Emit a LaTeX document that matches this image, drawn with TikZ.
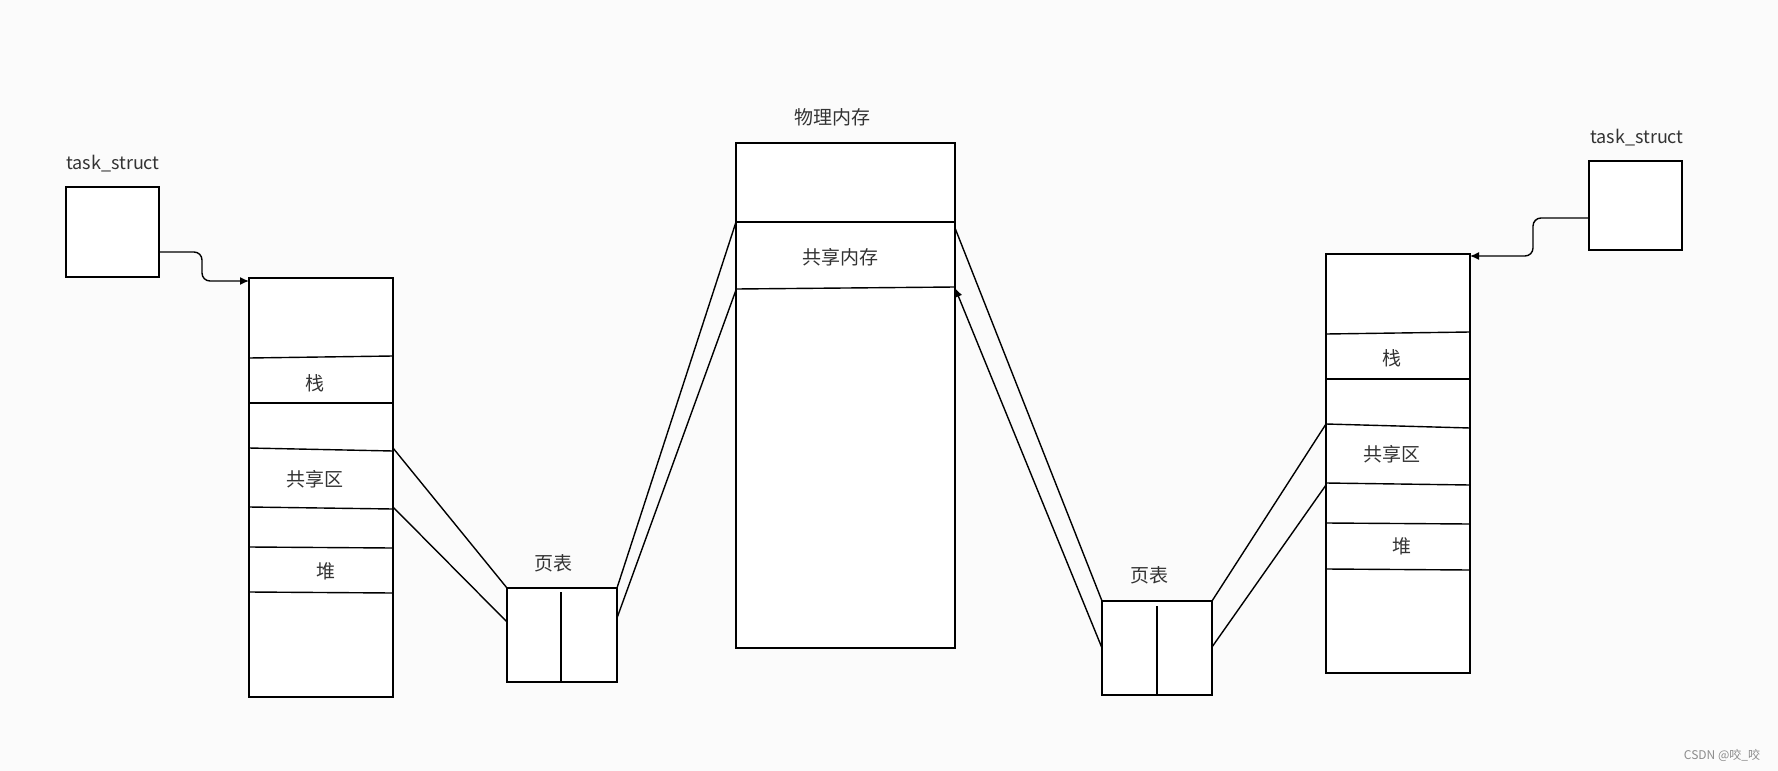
\documentclass[tikz,border=0pt]{standalone}
\usepackage{fontspec}
\setmainfont{Noto Sans CJK SC}
\usetikzlibrary{arrows.meta}
\definecolor{bg}{RGB}{251,251,251}
\definecolor{txt}{RGB}{51,51,51}
\tikzset{
  blk/.style={draw=black, fill=white, line width=2pt, inner sep=0pt, outer sep=0pt, rectangle},
  divl/.style={draw=black, line width=1.4pt},
  conn/.style={draw=black, line width=1.4pt},
  lbl/.style={text=txt, inner sep=0pt, font=\fontsize{18}{22}\selectfont},
  cjk/.style={text=txt, inner sep=0pt, font=\fontsize{19}{23}\selectfont},
  tip/.style={-{Latex[length=9pt,width=8pt]}}
}
\begin{document}
\begin{tikzpicture}[x=1pt,y=-1pt]
\path[fill=bg] (0,0) rectangle (1778,771);
\useasboundingbox (0,0) rectangle (1778,771);

% boxes
\node[blk, minimum width=93pt, minimum height=90pt] (ts1) at (112.5,232) {};
\node[blk, minimum width=144pt, minimum height=419pt] (col1) at (321,487.5) {};
\node[blk, minimum width=110pt, minimum height=94pt] (pt1) at (562,635) {};
\node[blk, minimum width=219pt, minimum height=505pt] (phys) at (845.5,395.5) {};
\node[blk, minimum width=110pt, minimum height=94pt] (pt2) at (1157,648) {};
\node[blk, minimum width=144pt, minimum height=419pt] (col2) at (1398,463.5) {};
\node[blk, minimum width=93pt, minimum height=89pt] (ts2) at (1635.5,205.5) {};

% labels
\node[lbl] (l1) at (113,164) {task\_struct};
\node[lbl] (l2) at (1637,138) {task\_struct};
\node[cjk] (l3) at (832,117) {物理内存};
\node[cjk] (l4) at (553,563) {页表};
\node[cjk] (l5) at (1149,575) {页表};

% left column dividers
\draw[divl] (249,358) -- (393,356);
\draw[divl] (249,403) -- (393,403);
\draw[divl] (249,448) -- (393,451);
\draw[divl] (249,507) -- (393,509);
\draw[divl] (249,547) -- (393,548);
\draw[divl] (249,592) -- (393,593);
\node[cjk] (s1) at (315,383) {栈};
\node[cjk] (s2) at (315,479) {共享区};
\node[cjk] (s3) at (326,571) {堆};

% right column dividers
\draw[divl] (1326,334) -- (1470,332);
\draw[divl] (1326,379) -- (1470,379);
\draw[divl] (1326,424) -- (1470,428);
\draw[divl] (1326,483) -- (1470,485);
\draw[divl] (1326,523) -- (1470,524);
\draw[divl] (1326,569) -- (1470,570);
\node[cjk] (r1) at (1392,358) {栈};
\node[cjk] (r2) at (1392,454) {共享区};
\node[cjk] (r3) at (1402,546) {堆};

% physical memory dividers
\draw[divl] (736,222) -- (955,222);
\draw[divl] (736,289) -- (955,287);
\node[cjk] (p1) at (840,257) {共享内存};

% page table inner lines
\draw[divl] (561,592) -- (561,682);
\draw[divl] (1157,606) -- (1157,695);

% connector end points
\coordinate (c1a) at (393,448);
\coordinate (c1b) at (393,507);
\coordinate (pt1w) at (507,622);
\coordinate (pt1e) at (617,618);
\coordinate (pha) at (736,222);
\coordinate (phb) at (736,290);
\coordinate (phc) at (955,228);
\coordinate (phd) at (955,288);
\coordinate (pt2e) at (1212,647);
\coordinate (c2a) at (1326,424);
\coordinate (c2b) at (1326,485);

% connectors
\draw[conn, tip, rounded corners=8pt] ([yshift=-20pt]ts1.east) -- ++(43,0) |- ([yshift=-3pt]col1.north west);
\draw[conn, tip, rounded corners=8pt] ([yshift=-12.5pt]ts2.west) -- ++(-56,0) |- ([yshift=-2pt]col2.north east);

\draw[conn] (c1a) -- (pt1.north west);
\draw[conn] (c1b) -- (pt1w);
\draw[conn] (pt1.north east) -- (pha);
\draw[conn] (pt1e) -- (phb);
\draw[conn] (phc) -- (pt2.north west);
\draw[conn, tip] (pt2.west) -- (phd);
\draw[conn] (pt2.north east) -- (c2a);
\draw[conn] (pt2e) -- (c2b);

% watermark
\node[text={rgb,255:red,140;green,140;blue,140}, inner sep=0pt, font=\fontsize{12}{14}\selectfont] (wm) at (1722,755) {CSDN @咬\_咬};
\end{tikzpicture}
\end{document}
